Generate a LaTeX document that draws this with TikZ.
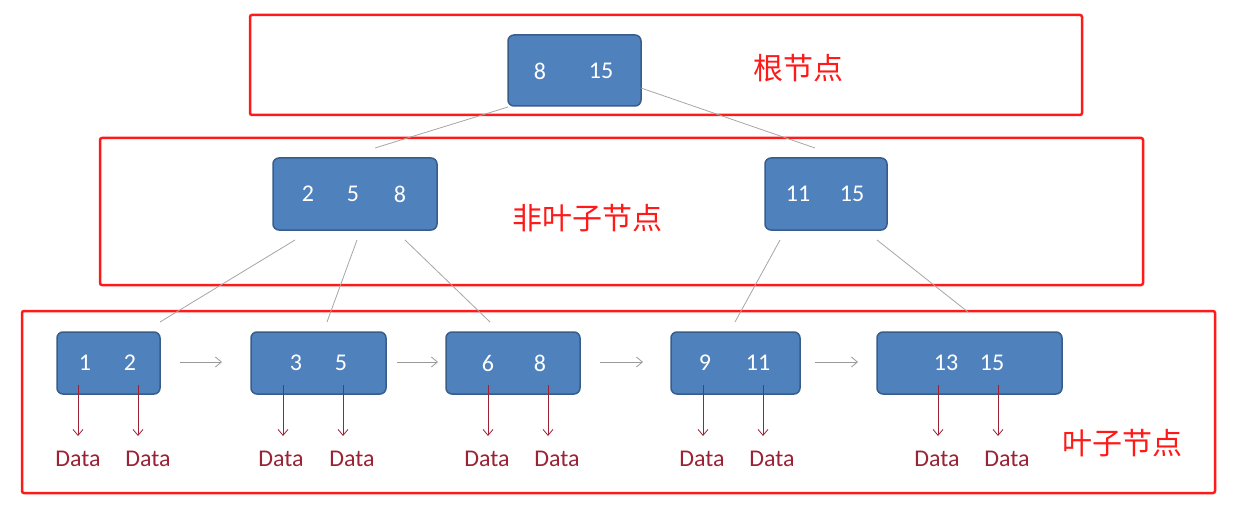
\documentclass[tikz,border=0pt]{standalone}
\usepackage{fontspec}
\setmainfont{Carlito}
\newfontfamily\cjk{Noto Sans CJK SC}
\usetikzlibrary{arrows.meta}
\definecolor{nodeblue}{HTML}{4F81BD}
\definecolor{nodeedge}{HTML}{385D8A}
\definecolor{datared}{HTML}{9B2335}
\definecolor{boxred}{HTML}{FF1A1A}
\begin{document}
\begin{tikzpicture}[x=1pt,y=-1pt,
  keybox/.style={draw=nodeedge,line width=1.5pt,fill=nodeblue,rounded corners=6pt},
  num/.style={text=white,font=\fontsize{24}{24}\selectfont,inner sep=0},
  redbox/.style={draw=boxred,line width=2.5pt,rounded corners=2pt},
  cn/.style={text=boxred,font=\cjk\fontsize{30}{30}\selectfont,inner sep=0},
  tree/.style={draw=gray!70,line width=0.8pt},
  link/.style={draw=gray!80,line width=0.8pt,-{Straight Barb[length=6pt,width=10pt]}},
  dataarr/.style={draw=datared,line width=0.8pt,-{Straight Barb[length=6pt,width=10pt]}},
  dat/.style={text=datared,font=\fontsize{24}{24}\selectfont,inner sep=0}]
\useasboundingbox[fill=white] (0,0) rectangle (1235,508);
% red frames
\draw[redbox] (250,15) rectangle (1082,115);
\draw[redbox] (100,138) rectangle (1143,285);
\draw[redbox] (22,311) rectangle (1215,493);
% nodes
\draw[keybox] (508,35) rectangle (641,106);
\draw[keybox] (273,158) rectangle (437,230);
\draw[keybox] (765,158) rectangle (887,230);
\draw[keybox] (57,332) rectangle (160,394);
\draw[keybox] (251,332) rectangle (386,394);
\draw[keybox] (446,332) rectangle (580,394);
\draw[keybox] (671,332) rectangle (800,394);
\draw[keybox] (877,332) rectangle (1062,394);
% numbers
\node[num] (r1) at (540,71) {8}; \node[num] (r2) at (601,71) {15};
\node[num] (a1) at (308,194) {2}; \node[num] (a2) at (353,194) {5}; \node[num] (a3) at (400,194) {8};
\node[num] (b1) at (798,194) {11}; \node[num] (b2) at (852,194) {15};
\node[num] at (85,363) {1}; \node[num] at (130,363) {2};
\node[num] at (296,363) {3}; \node[num] at (341,363) {5};
\node[num] at (488,363) {6}; \node[num] at (540,363) {8};
\node[num] at (705,363) {9}; \node[num] at (758,363) {11};
\node[num] at (946,363) {13}; \node[num] at (992,363) {15};
% tree lines
\draw[tree] (508,107) -- (375,148);
\draw[tree] (641,88) -- (815,148);
\draw[tree] (295,240) -- (160,322);
\draw[tree] (357,240) -- (327,322);
\draw[tree] (405,240) -- (490,322);
\draw[tree] (780,240) -- (735,322);
\draw[tree] (877,240) -- (968,312);
% leaf links
\draw[link] (180,362) -- (222,362);
\draw[link] (397,362) -- (438,362);
\draw[link] (600,362) -- (643,362);
\draw[link] (815,362) -- (858,362);
% data arrows
\foreach \x/\lx in {78/78,138/148,283/281,343/352,488/487,548/557,703/702,763/772,938/937,998/1007}{
  \draw[dataarr] (\x,385) -- (\x,436);
  \node[dat] at (\lx,459) {Data};
}
% labels
\node[cn] at (798,68) {根节点};
\node[cn] at (587,218) {非叶子节点};
\node[cn] at (1122,443) {叶子节点};
\end{tikzpicture}
\end{document}
